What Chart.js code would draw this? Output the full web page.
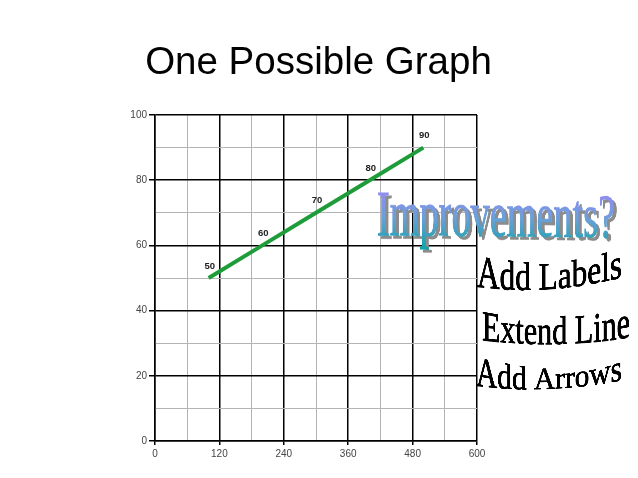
<!DOCTYPE html>
<html>
<head>
<meta charset="utf-8">
<title>One Possible Graph</title>
<script src="https://cdn.jsdelivr.net/npm/chart.js@4.4.1/dist/chart.umd.min.js"></script>
<style>
  html, body { margin: 0; padding: 0; background: #fff; }
  canvas { display: block; }
</style>
</head>
<body>
<canvas id="myChart" width="638" height="478"></canvas>
<script>
const xValues = [100, 200, 300, 400, 500];
const yValues = [50, 60, 70, 80, 90];
const pointLabels = ['50', '60', '70', '80', '90'];
const xTicks = [0, 120, 240, 360, 480, 600];
const yTicks = [0, 20, 40, 60, 80, 100];
const titleText = 'One Possible Graph';
const headline = 'Improvements?';
const notes = ['Add Labels', 'Extend Line', 'Add Arrows'];

// quadratic through t = 0, 0.5, 1
const quad = (p, t) => p[0] * 2 * (t - 0.5) * (t - 1) - p[1] * 4 * t * (t - 1) + p[2] * 2 * t * (t - 0.5);

// draws text squeezed between a top (cap line) and bottom (baseline) curve, like WordArt
const warpText = (ctx, text, paint, weight, x0, x1, topPts, botPts, dx, dy) => {
    const fs = 100;
    const font = fs + 'px "Liberation Serif", "Times New Roman", serif';
    const off = document.createElement('canvas');
    let octx = off.getContext('2d');
    octx.font = font;
    const w = octx.measureText(text).width;
    const cap = octx.measureText('H').actualBoundingBoxAscent;
    const capTop = 10, base = capTop + cap;
    off.width = Math.ceil(w) + 8;
    off.height = Math.ceil(base + 30);
    octx = off.getContext('2d');
    octx.font = font;
    octx.fillStyle = octx.strokeStyle = paint(octx, capTop, base);
    octx.lineWidth = weight;
    octx.lineJoin = 'round';
    octx.fillText(text, 4, base);
    octx.strokeText(text, 4, base);
    const span = x1 - x0;
    for (let x = 0; x < span; x++) {
        const t = x / span;
        const top = quad(topPts, t), bot = quad(botPts, t);
        const s = (bot - top) / cap;
        ctx.drawImage(off, 4 + t * w, 0, w / span, off.height,
            x0 + x + (dx || 0), top - capTop * s + (dy || 0), 1, off.height * s);
    }
};

const decorPlugin = {
    id: 'decor',
    afterDatasetsDraw(chart) {
        const ctx = chart.ctx;
        const meta = chart.getDatasetMeta(0);
        ctx.save();
        ctx.fillStyle = '#222';
        ctx.font = 'bold 9.5px "Liberation Sans", Arial, sans-serif';
        ctx.textAlign = 'center';
        ctx.textBaseline = 'middle';
        meta.data.forEach((pt, i) => {
            ctx.fillText(pointLabels[i], pt.x + 1, pt.y - 12);
        });
        ctx.restore();
    },
    afterDraw(chart) {
        const ctx = chart.ctx;
        ctx.save();
        ctx.fillStyle = '#000';
        ctx.font = '38.5px "Liberation Sans", Arial, sans-serif';
        ctx.textAlign = 'center';
        ctx.textBaseline = 'alphabetic';
        ctx.fillText(titleText, 318.5, 74);

        // headline with shadow + gradient
        const hTop = [193, 194, 197], hBot = [235, 236, 237];
        warpText(ctx, headline, () => '#8c8c8c', 1.5, 377, 615, hTop, hBot, 3, 3);
        warpText(ctx, headline, (c, top, base) => {
            const g = c.createLinearGradient(0, top, 0, base + 20);
            g.addColorStop(0, '#8f8ff0');
            g.addColorStop(0.45, '#6aa0d8');
            g.addColorStop(1, '#12a3a8');
            return g;
        }, 1.5, 377, 615, hTop, hBot);

        const black = () => '#000';
        warpText(ctx, notes[0], black, 2, 477, 622, [256, 264, 249], [287, 289, 277]);
        warpText(ctx, notes[1], black, 2, 482, 630, [312, 318, 307], [340, 344, 337]);
        warpText(ctx, notes[2], black, 2, 476, 622, [357, 369, 355], [386, 389, 380]);
        ctx.restore();
    }
};

const gridColor = (step) => (c) => (c.tick && c.tick.value % step === 0) ? '#000' : '#b4b4b4';
const gridWidth = (step) => (c) => (c.tick && c.tick.value % step === 0) ? 1.5 : 1;
const tickColor = (step) => (c) => (c.tick && c.tick.value % step === 0) ? '#000' : 'rgba(0,0,0,0)';

const renderChart = () => {
    var ctx = document.getElementById('myChart').getContext('2d');
    var myChart = new Chart(ctx, {
        type: 'line',
        data: {
            datasets: [{
                data: xValues.map((x, i) => ({ x: x, y: yValues[i] })),
                borderColor: '#1e9c3a',
                borderWidth: 4,
                pointRadius: 0,
                tension: 0,
                fill: false
            }]
        },
        options: {
            responsive: false,
            animation: false,
            layout: {
                padding: { left: 110, top: 115, right: 161, bottom: 12 }
            },
            plugins: {
                legend: { display: false },
                tooltip: { enabled: false }
            },
            scales: {
                x: {
                    type: 'linear',
                    min: 0,
                    max: 600,
                    afterFit: (s) => { s.height = 25; },
                    border: { display: true, color: '#000', width: 1.5 },
                    grid: {
                        color: gridColor(120),
                        lineWidth: gridWidth(120),
                        tickColor: tickColor(120),
                        tickLength: 4
                    },
                    ticks: {
                        stepSize: 60,
                        autoSkip: false,
                        maxRotation: 0,
                        padding: 3,
                        color: '#444',
                        font: { family: '"Liberation Sans", Arial, sans-serif', size: 10 },
                        callback: (v) => xTicks.includes(v) ? String(v) : ''
                    }
                },
                y: {
                    min: 0,
                    max: 100,
                    afterFit: (s) => { s.width = 45; },
                    border: { display: true, color: '#000', width: 1.5 },
                    grid: {
                        color: gridColor(20),
                        lineWidth: gridWidth(20),
                        tickColor: tickColor(20),
                        tickLength: 6
                    },
                    ticks: {
                        stepSize: 10,
                        autoSkip: false,
                        padding: 2,
                        color: '#444',
                        font: { family: '"Liberation Sans", Arial, sans-serif', size: 10 },
                        callback: (v) => yTicks.includes(v) ? String(v) : ''
                    }
                }
            }
        },
        plugins: [decorPlugin]
    });
};

renderChart();
</script>
</body>
</html>
